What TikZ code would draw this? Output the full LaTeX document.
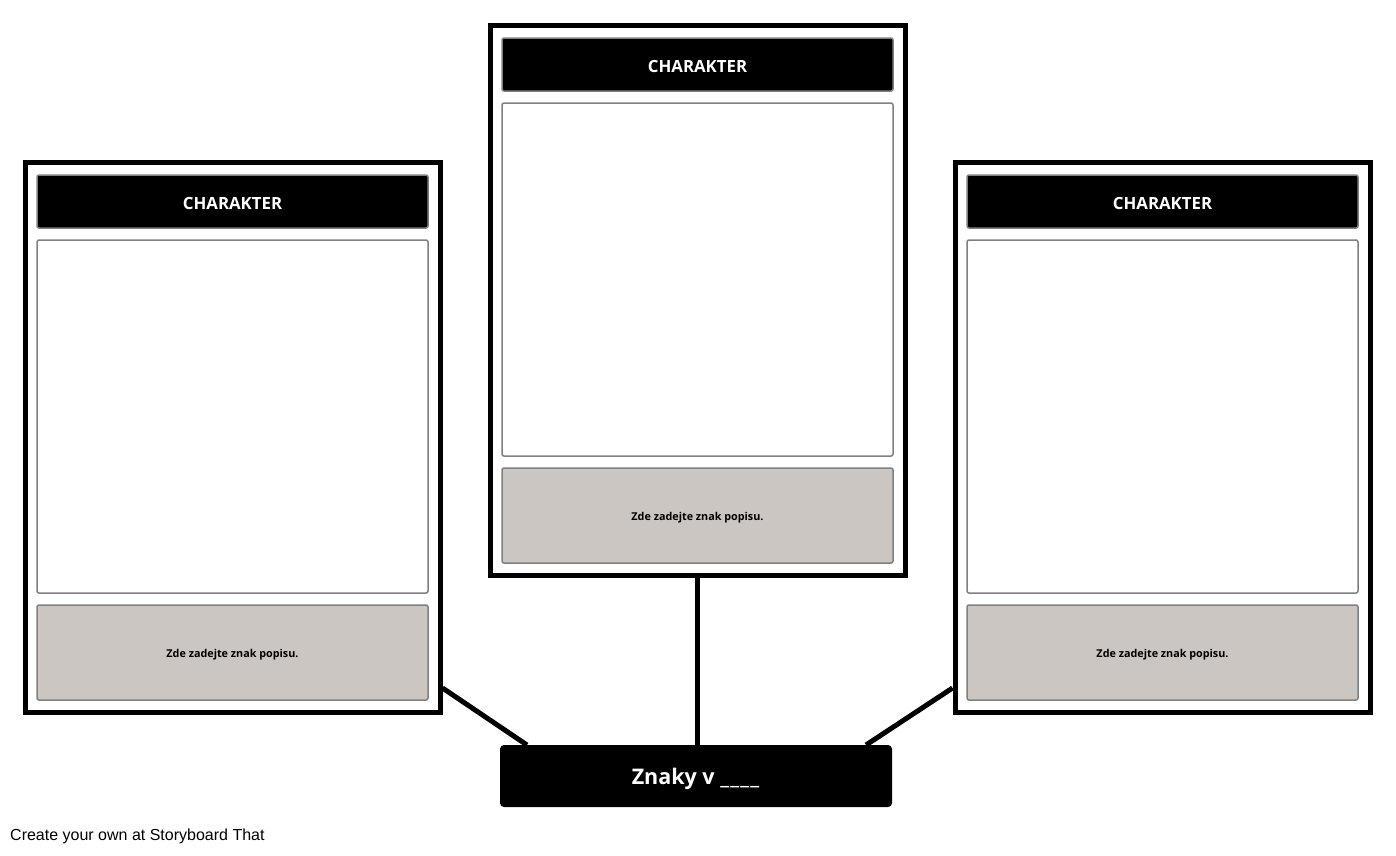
\documentclass[tikz,border=0pt]{standalone}
\usepackage{fontspec}
\setmainfont{Open Sans}
\newfontfamily\footfont{Liberation Sans}
\usetikzlibrary{backgrounds}
\definecolor{descgray}{RGB}{203,198,194}
\definecolor{edgegray}{RGB}{128,128,128}
\tikzset{
  cardbox/.style={draw=black, line width=5pt, fill=white, minimum width=415pt, minimum height=550pt, inner sep=0pt},
  headbox/.style={draw=edgegray, line width=1.5pt, fill=black, rounded corners=2pt, minimum width=391pt, minimum height=53pt, inner sep=0pt},
  headtext/.style={text=white, inner sep=0pt, font=\fontsize{16.8}{19}\selectfont\bfseries},
  imgbox/.style={draw=edgegray, line width=1.5pt, fill=white, rounded corners=2pt, minimum width=391pt, minimum height=353pt, inner sep=0pt},
  descbox/.style={draw=edgegray, line width=1.5pt, fill=descgray, rounded corners=2pt, minimum width=391pt, minimum height=95pt, inner sep=0pt},
  desctext/.style={inner sep=0pt, font=\fontsize{10.8}{12}\selectfont\bfseries},
  titlebox/.style={fill=black, rounded corners=4pt, minimum width=392pt, minimum height=62pt, inner sep=0pt},
  titletext/.style={text=white, inner sep=0pt, font=\fontsize{21.5}{25}\selectfont\bfseries},
  link/.style={draw=black, line width=5pt}
}
\newcommand{\blankline}{\_\kern1.2pt\_\kern1.2pt\_\kern1.2pt\_}
\begin{document}
\begin{tikzpicture}[x=1pt,y=-1pt]
\useasboundingbox (0,0) rectangle (1396,855);
% left card
\node[cardbox] (cardL) at (232.5,437) {};
\node[headbox] (headL) at (232.5,201.5) {};
\node[headtext] (headLt) at (232.5,203.5) {CHARAKTER};
\node[imgbox] (imgL) at (232.5,416.5) {};
\node[descbox] (descL) at (232.5,652.5) {};
\node[desctext] (descLt) at (232.5,654.5) {Zde zadejte znak popisu.};
% middle card
\node[cardbox] (cardM) at (697.5,300) {};
\node[headbox] (headM) at (697.5,64.5) {};
\node[headtext] (headMt) at (697.5,66.5) {CHARAKTER};
\node[imgbox] (imgM) at (697.5,279.5) {};
\node[descbox] (descM) at (697.5,515.5) {};
\node[desctext] (descMt) at (697.5,517.5) {Zde zadejte znak popisu.};
% right card
\node[cardbox] (cardR) at (1162.5,437) {};
\node[headbox] (headR) at (1162.5,201.5) {};
\node[headtext] (headRt) at (1162.5,203.5) {CHARAKTER};
\node[imgbox] (imgR) at (1162.5,416.5) {};
\node[descbox] (descR) at (1162.5,652.5) {};
\node[desctext] (descRt) at (1162.5,654.5) {Zde zadejte znak popisu.};
% title
\node[titlebox] (title) at (696,776) {};
\node[titletext] (titlet) at (695.5,778.5) {Znaky v \blankline};
% connectors
\coordinate (lA) at (cardL.east |- 0,688);
\coordinate (lB) at (527,745);
\coordinate (rA) at (cardR.west |- 0,688);
\coordinate (rB) at (866,745);
\begin{scope}[on background layer]
\draw[link] (lA) -- (lB);
\draw[link] (rA) -- (rB);
\draw[link] (cardM.south) -- (cardM.south |- title.north);
\end{scope}
% footer
\node[anchor=west, inner sep=0pt, font=\footfont\fontsize{16}{19}\selectfont] (foot) at (10,836) {Create your own at Storyboard That};
\end{tikzpicture}
\end{document}
